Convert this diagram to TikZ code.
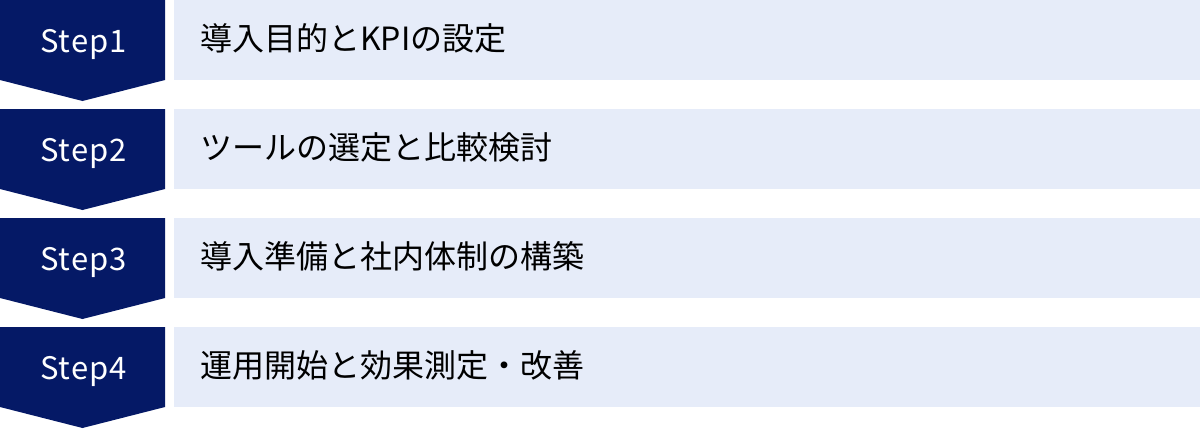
\documentclass[tikz,border=0pt]{standalone}
\usepackage{fontspec}
\setmainfont{Noto Sans CJK JP}
\newfontfamily\stepfont[LetterSpace=3]{Noto Sans CJK JP}
\definecolor{navy}{HTML}{051966}
\definecolor{paleblue}{HTML}{E6ECF9}
\tikzset{
  chevron/.style={fill=navy, draw=none},
  steplabel/.style={text=white, font=\stepfont\fontsize{31}{31}\selectfont, inner sep=0pt, anchor=base},
  bar/.style={fill=paleblue, draw=none, minimum width=1026pt, minimum height=80pt, inner sep=0pt, anchor=north west},
  bartext/.style={text=black, font=\fontsize{32}{32}\selectfont, inner sep=0pt, anchor=west}
}
\begin{document}
\begin{tikzpicture}[x=1pt,y=-1pt]
\useasboundingbox (0,0) rectangle (1200,429);
\foreach \i/\t/\lab in {1/0/{導入目的とKPIの設定},2/109/{ツールの選定と比較検討},3/218/{導入準備と社内体制の構築},4/327/{運用開始と効果測定・改善}}{
  \fill[chevron] (0,\t) -- (165,\t) -- (165,\t+80) -- (82.5,\t+101) -- (0,\t+80) -- cycle;
  \node[steplabel] (step\i) at (83.5,\t+52) {Step\i};
  \node[bar] (bar\i) at (174,\t) {};
  \node[bartext] (text\i) at (200,\t+38.5) {\lab};
}
\end{tikzpicture}
\end{document}
